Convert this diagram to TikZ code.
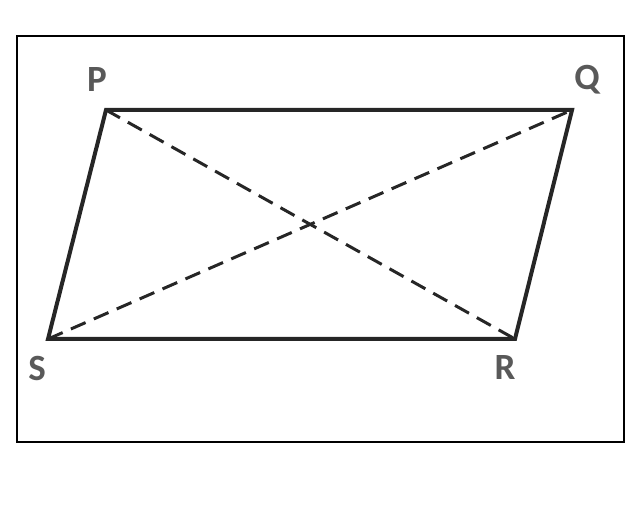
\documentclass[tikz,border=0pt]{standalone}
\usepackage{fontspec}
\setmainfont{Carlito}
\begin{document}
\begin{tikzpicture}[x=1pt,y=-1pt,
  side/.style={line width=4pt,line join=miter,color=black!85},
  diag/.style={line width=3pt,dash pattern=on 16pt off 9pt,color=black!85},
  lbl/.style={font=\fontsize{37}{37}\selectfont\bfseries,text=black!65,inner sep=0pt,anchor=center},
  frame/.style={line width=2.5pt}]
\useasboundingbox (0,0) rectangle (638,510);
\draw[frame] (17,36) rectangle (624,442);
\coordinate (P) at (106,110);
\coordinate (Q) at (572,110);
\coordinate (R) at (515,339);
\coordinate (S) at (48,339);
\draw[side] (P) -- (Q) -- (R) -- (S) -- cycle;
\draw[diag] (P) -- (R);
\draw[diag] (S) -- (Q);
\node[lbl] (lp) at (97,80) {P};
\node[lbl] (lq) at (587,80) {Q};
\node[lbl] (ls) at (37,368) {S};
\node[lbl] (lr) at (505,368) {R};
\end{tikzpicture}
\end{document}
